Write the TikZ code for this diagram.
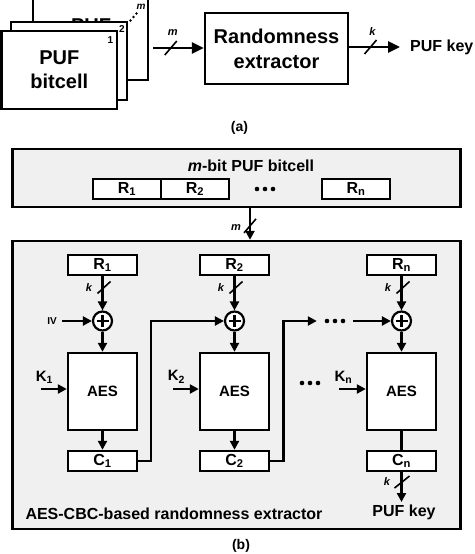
\documentclass[tikz,border=0pt]{standalone}
\usepackage{fontspec}
\setmainfont{Liberation Sans}
\usetikzlibrary{arrows.meta}
\usetikzlibrary{calc}

\definecolor{panelgray}{HTML}{F0F0F0}

\tikzset{
  blk/.style={draw, line width=2.4pt, fill=white, inner sep=0pt, font=\bfseries},
  rbox/.style={blk, minimum width=68.5pt, minimum height=20pt, font=\bfseries\fontsize{16}{16}\selectfont},
  aesbox/.style={blk, minimum width=69pt, minimum height=77pt, font=\bfseries\fontsize{15}{15}\selectfont},
  card/.style={blk, align=center, font=\bfseries\fontsize{20}{24}\selectfont},
  wire/.style={line width=2.4pt, -{Triangle[length=9pt,width=9pt]}},
  bigwire/.style={line width=2.8pt, -{Triangle[length=12pt,width=11pt]}},
  busmark/.style={line width=1.6pt},
  buslabel/.style={inner sep=1pt, font=\bfseries\itshape\fontsize{11}{11}\selectfont},
  xorgate/.style={circle, draw, line width=2.2pt, fill=white, minimum size=19pt, inner sep=0pt,
    path picture={\draw[line width=2.2pt]
      ([yshift=6pt]path picture bounding box.center) -- ([yshift=-6pt]path picture bounding box.center)
      ([xshift=-6pt]path picture bounding box.center) -- ([xshift=6pt]path picture bounding box.center);}},
  keylabel/.style={inner sep=1pt, font=\bfseries\fontsize{15}{15}\selectfont},
  dotrow/.style={minimum width=22pt, minimum height=6pt, inner sep=0pt},
}

\begin{document}
\begin{tikzpicture}[x=1pt,y=-1pt]
    \useasboundingbox (0,0) rectangle (474,554);

    % (a) PUF bitcells and extractor
    \node[card, minimum width=115, minimum height=82] (card3) at (90.5,39) {};
    \node[inner sep=0pt, font=\bfseries\fontsize{20}{20}\selectfont] (card3txt) at (91,26) {PUF};
    \node[card, minimum width=116, minimum height=78] (card2) at (69,61) {};
    \node[card, minimum width=115.5, minimum height=78] (card1) at (59.25,70) {PUF\\bitcell};
    \node[inner sep=0pt, font=\bfseries\fontsize{10}{10}\selectfont] (num1) at (110.5,40) {1};
    \node[inner sep=0pt, font=\bfseries\fontsize{10}{10}\selectfont] (num2) at (122,29) {2};
    \node[inner sep=0pt, font=\bfseries\itshape\fontsize{10}{10}\selectfont] (numm) at (141,7) {m};
    \fill (130.5,20.5) circle (1.3) (133.5,17) circle (1.3) (136.5,13.5) circle (1.3);

    \node[blk, minimum width=143, minimum height=71, align=center,
          font=\bfseries\fontsize{20}{25}\selectfont] (ext) at (276.5,48.5) {Randomness\\extractor};
    \coordinate (busin) at (153,48);
    \draw[bigwire] (busin) -- coordinate[pos=0.35] (sm) (busin -| ext.west);
    \draw[busmark] (sm) ++(-6,7) -- ++(12,-14);
    \node[buslabel] at ($(sm)+(2,-15)$) {m};
    \node[anchor=west, inner xsep=10pt, inner ysep=1pt,
          font=\bfseries\fontsize{16}{16}\selectfont] (keya) at (400,47) {PUF key};
    \draw[bigwire] (ext.east |- keya.west) -- coordinate[pos=0.42] (sk) (keya.west);
    \draw[busmark] (sk) ++(-6,7) -- ++(12,-14);
    \node[buslabel] at ($(sk)+(2,-15)$) {k};
    \node[font=\bfseries\fontsize{14}{14}\selectfont] (capa) at (239.5,128) {(a)};

    % (b) m-bit PUF bitcell
    \node[draw, line width=2.4pt, fill=panelgray, minimum width=448, minimum height=58,
          inner sep=0pt] (bitbox) at (236.5,178) {};
    \node[font=\bfseries\fontsize{16}{16}\selectfont] (bittitle) at (251,166) {\textit{m}-bit PUF bitcell};
    \node[rbox] (r1) at (127,189) {R\textsubscript{1}};
    \node[rbox] (r2) at (195,189) {R\textsubscript{2}};
    \node[dotrow] (rdots) at (265,189) {};
    \node[rbox] (rn) at (356,189) {R\textsubscript{n}};

    % AES-CBC extractor
    \node[draw, line width=2.4pt, fill=panelgray, minimum width=448, minimum height=288,
          inner sep=0pt] (extbox) at (236.5,385) {};
    \coordinate (busx) at (250,0);
    \draw[wire] (bitbox.south -| busx) -- coordinate[pos=0.56] (smb) (extbox.north -| busx);
    \draw[busmark] (smb) ++(-6,7) -- ++(12,-14);
    \node[buslabel] at ($(smb)+(-14,2)$) {m};

    \node[rbox] (ra1) at (102.5,265) {R\textsubscript{1}};
    \node[rbox] (ra2) at (234.5,265) {R\textsubscript{2}};
    \node[rbox] (ran) at (401.5,265) {R\textsubscript{n}};
    \node[xorgate] (x1) at (102.5,321) {};
    \node[xorgate] (x2) at (234.5,321) {};
    \node[xorgate] (xn) at (401.5,321) {};
    \node[aesbox] (aes1) at (102.5,391.5) {AES};
    \node[aesbox] (aes2) at (234.5,391.5) {AES};
    \node[aesbox] (aesn) at (401.5,391.5) {AES};
    \node[rbox] (c1) at (102.5,461) {C\textsubscript{1}};
    \node[rbox] (c2) at (234.5,461) {C\textsubscript{2}};
    \node[rbox] (cn) at (401.5,461) {C\textsubscript{n}};

    \draw[wire] (ra1) -- coordinate[pos=0.33] (sk1) (x1);
    \draw[wire] (ra2) -- coordinate[pos=0.33] (sk2) (x2);
    \draw[wire] (ran) -- coordinate[pos=0.33] (skn) (xn);
    \draw[busmark] (sk1) ++(-5,6) -- ++(13,-12);
    \draw[busmark] (sk2) ++(-5,6) -- ++(13,-12);
    \draw[busmark] (skn) ++(-5,6) -- ++(13,-12);
    \node[buslabel] at ($(sk1)+(-13.5,0)$) {k};
    \node[buslabel] at ($(sk2)+(-13.5,0)$) {k};
    \node[buslabel] at ($(skn)+(-13.5,0)$) {k};

    \draw[wire] (x1) -- (aes1);
    \draw[wire] (x2) -- (aes2);
    \draw[wire] (xn) -- (aesn);
    \draw[wire] (aes1) -- (c1);
    \draw[wire] (aes2) -- (c2);
    \draw[line width=2.4pt] (aesn) -- (cn);

    \node[inner sep=1pt, font=\bfseries\fontsize{10}{10}\selectfont] (iv) at (52,321) {IV};
    \draw[wire] ($(iv.east)+(4,0)$) -- (x1);

    \coordinate (kin1) at (41,389);
    \coordinate (kin2) at (173,389);
    \coordinate (kinn) at (339,389);
    \draw[wire] (kin1) -- (kin1 -| aes1.west);
    \draw[wire] (kin2) -- (kin2 -| aes2.west);
    \draw[wire] (kinn) -- (kinn -| aesn.west);
    \node[keylabel] (k1) at (44.5,377) {K\textsubscript{1}};
    \node[keylabel] (k2) at (176.5,377) {K\textsubscript{2}};
    \node[keylabel] (kn) at (343.5,377) {K\textsubscript{n}};
    \node[dotrow] (kdots) at (310,383) {};

    \node[dotrow, minimum width=36pt] (chaindots) at (335,321) {};
    \draw[wire] (c1.east) -- ++(13,0) |- (x2);
    \draw[wire] (c2.east) -- ++(13.5,0) |- (chaindots);
    \draw[wire] (chaindots) -- (xn);
    \foreach \d in {rdots, kdots, chaindots}
      \fill (\d.center) ++(-8,0) circle (2.3) ++(8,0) circle (2.3) ++(8,0) circle (2.3);

    \node[anchor=north, inner xsep=1pt, inner ysep=3pt,
          font=\bfseries\fontsize{16}{16}\selectfont] (keyb) at (404,502) {PUF key};
    \draw[wire] (cn) -- coordinate[pos=0.33] (skb) (cn |- keyb.north);
    \draw[busmark] (skb) ++(-7,6) -- ++(15,-12);
    \node[buslabel] at ($(skb)+(-14.5,-1)$) {k};

    \node[font=\bfseries\fontsize{16}{16}\selectfont] (exttitle) at (174,514) {AES-CBC-based randomness extractor};
    \node[font=\bfseries\fontsize{14}{14}\selectfont] (capb) at (241,546) {(b)};
\end{tikzpicture}
\end{document}
